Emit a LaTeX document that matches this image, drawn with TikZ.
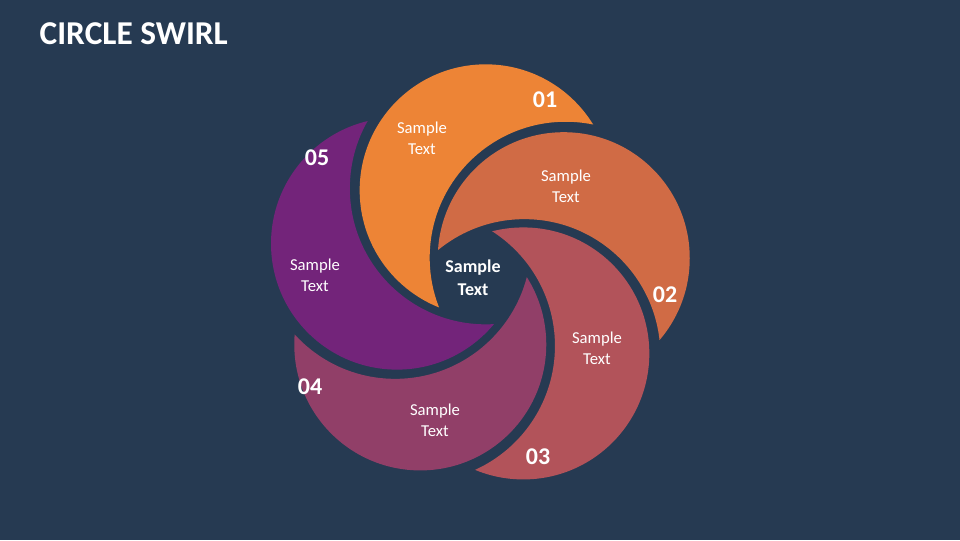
\documentclass[tikz,border=0pt]{standalone}
\usepackage{fontspec}
\setmainfont{Carlito}
\begin{document}
\begin{tikzpicture}[x=0.75pt,y=0.75pt,
  lbl/.style={text=white,font=\fontsize{12.5}{16}\selectfont,align=center},
  num/.style={text=white,font=\bfseries\fontsize{18}{20}\selectfont}]
\definecolor{bg}{HTML}{263A52}
\definecolor{cA}{HTML}{ED8436}
\definecolor{cB}{HTML}{D06B45}
\definecolor{cC}{HTML}{B2535A}
\definecolor{cD}{HTML}{913F68}
\definecolor{cE}{HTML}{73247A}
\fill[bg] (0,0) rectangle (960,540);
\useasboundingbox (0,0) rectangle (960,540);
\node[anchor=west,text=white,font=\bfseries\fontsize{25}{28}\selectfont] (title) at (35,506) {CIRCLE SWIRL};
\begin{scope}[shift={(478,262)}]
\foreach \a/\c in {85/cA,13/cB,-59/cC,-131/cD,157/cE}{
  \pgfmathsetmacro{\n}{\a-72}
  \begin{scope}[even odd rule]
    \clip (-500,-300) rectangle (500,300) (\n:90) circle (136);
    \fill[\c] (\a:88) circle (126) (0,0) circle (46);
  \end{scope}
}
\end{scope}
\node[num] (n1) at (545,440) {01};
\node[num] (n2) at (665,245) {02};
\node[num] (n3) at (538,83) {03};
\node[num] (n4) at (310,153) {04};
\node[num] (n5) at (317,382) {05};
\node[lbl] (t1) at (422,402) {Sample\\Text};
\node[lbl] (t2) at (566,354) {Sample\\Text};
\node[lbl] (t3) at (597,192) {Sample\\Text};
\node[lbl] (t4) at (435,120) {Sample\\Text};
\node[lbl] (t5) at (315,265) {Sample\\Text};
\node[lbl,font=\bfseries\fontsize{13.5}{17}\selectfont] (tc) at (473,262) {Sample\\Text};
\end{tikzpicture}
\end{document}
